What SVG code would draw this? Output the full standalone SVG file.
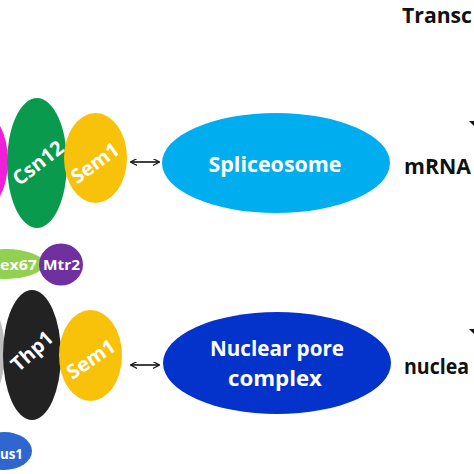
<svg xmlns="http://www.w3.org/2000/svg" width="474" height="474" viewBox="0 0 474 474">
<defs>
<style>
text{font-family:"Open Sans","Noto Sans","Liberation Sans",sans-serif;font-weight:bold}
.w{fill:#fff}
.k{fill:#111}
.ln{stroke:#111;stroke-width:1.6;fill:none}
</style>
<marker id="ah" viewBox="0 0 10 10" refX="9" refY="5" markerWidth="7" markerHeight="7" orient="auto-start-reverse" markerUnits="userSpaceOnUse">
<path d="M0,0 L10,5 L0,10" fill="none" stroke="#111" stroke-width="1.8"/>
</marker>
</defs>
<rect width="474" height="474" fill="#fff"/>

<g id="magenta">
<ellipse cx="-22" cy="161" rx="30" ry="52" fill="#F020D8"/>
</g>
<g id="csn12">
<ellipse cx="37" cy="163" rx="30" ry="65" fill="#0A9A4E"/>
<text class="w" x="38" y="170" font-size="20" text-anchor="middle" transform="rotate(-38 38 163)">Csn12</text>
</g>
<g id="sem1-top">
<ellipse cx="95.5" cy="158" rx="31.5" ry="45" fill="#F9C20A"/>
<text class="w" x="95" y="170" font-size="20" text-anchor="middle" transform="rotate(-36 95 163)">Sem1</text>
</g>
<g id="spliceosome">
<ellipse cx="276" cy="163" rx="114" ry="50" fill="#00AEEF"/>
<text class="w" x="275" y="172" font-size="21" text-anchor="middle" textLength="133" lengthAdjust="spacingAndGlyphs">Spliceosome</text>
</g>

<g id="mex67">
<ellipse cx="6" cy="264" rx="38" ry="15" fill="#92D050"/>
<text class="w" x="0" y="270" font-size="15" textLength="37" lengthAdjust="spacingAndGlyphs">ex67</text>
</g>
<g id="mtr2">
<ellipse cx="61" cy="264.5" rx="22" ry="21" fill="#7030A0"/>
<text class="w" x="61.5" y="270" font-size="15" text-anchor="middle" textLength="37" lengthAdjust="spacingAndGlyphs">Mtr2</text>
</g>
<g id="grey">
<ellipse cx="-25" cy="352" rx="30" ry="58" fill="#BDBDBD"/>
</g>
<g id="thp1">
<ellipse cx="32" cy="355" rx="29" ry="65" fill="#222222"/>
<text class="w" x="32" y="358" font-size="20" text-anchor="middle" transform="rotate(-42 32 351)">Thp1</text>
</g>
<g id="sem1-bottom">
<ellipse cx="90.5" cy="355.5" rx="31.5" ry="45.5" fill="#F9C20A"/>
<text class="w" x="91" y="366" font-size="20" text-anchor="middle" transform="rotate(-34 91 359)">Sem1</text>
</g>
<g id="npc">
<ellipse cx="277" cy="363" rx="114" ry="51" fill="#0433CC"/>
<text class="w" x="277" y="356" font-size="21" text-anchor="middle" textLength="134" lengthAdjust="spacingAndGlyphs">Nuclear pore</text>
<text class="w" x="275" y="386" font-size="21" text-anchor="middle" textLength="94" lengthAdjust="spacingAndGlyphs">complex</text>
</g>
<g id="sus1">
<ellipse cx="4" cy="451" rx="28" ry="19" fill="#2F66D0"/>
<text class="w" x="0" y="459" font-size="15" textLength="23" lengthAdjust="spacingAndGlyphs">us1</text>
</g>

<g id="labels">
<text class="k" x="402" y="23" font-size="22" textLength="70" lengthAdjust="spacingAndGlyphs">Transc</text>
<text class="k" x="404" y="174" font-size="22" textLength="67" lengthAdjust="spacingAndGlyphs">mRNA</text>
<text class="k" x="404" y="374" font-size="22" textLength="65" lengthAdjust="spacingAndGlyphs">nuclea</text>
</g>

<g id="connectors">
<line class="ln" x1="131" y1="162" x2="159" y2="162" marker-start="url(#ah)" marker-end="url(#ah)"/>
<line class="ln" x1="131" y1="365" x2="159" y2="365" marker-start="url(#ah)" marker-end="url(#ah)"/>
<polygon points="469,121 483,121 476,128" fill="#111"/>
<polygon points="469,329 483,329 476,336" fill="#111"/>
</g>
</svg>
